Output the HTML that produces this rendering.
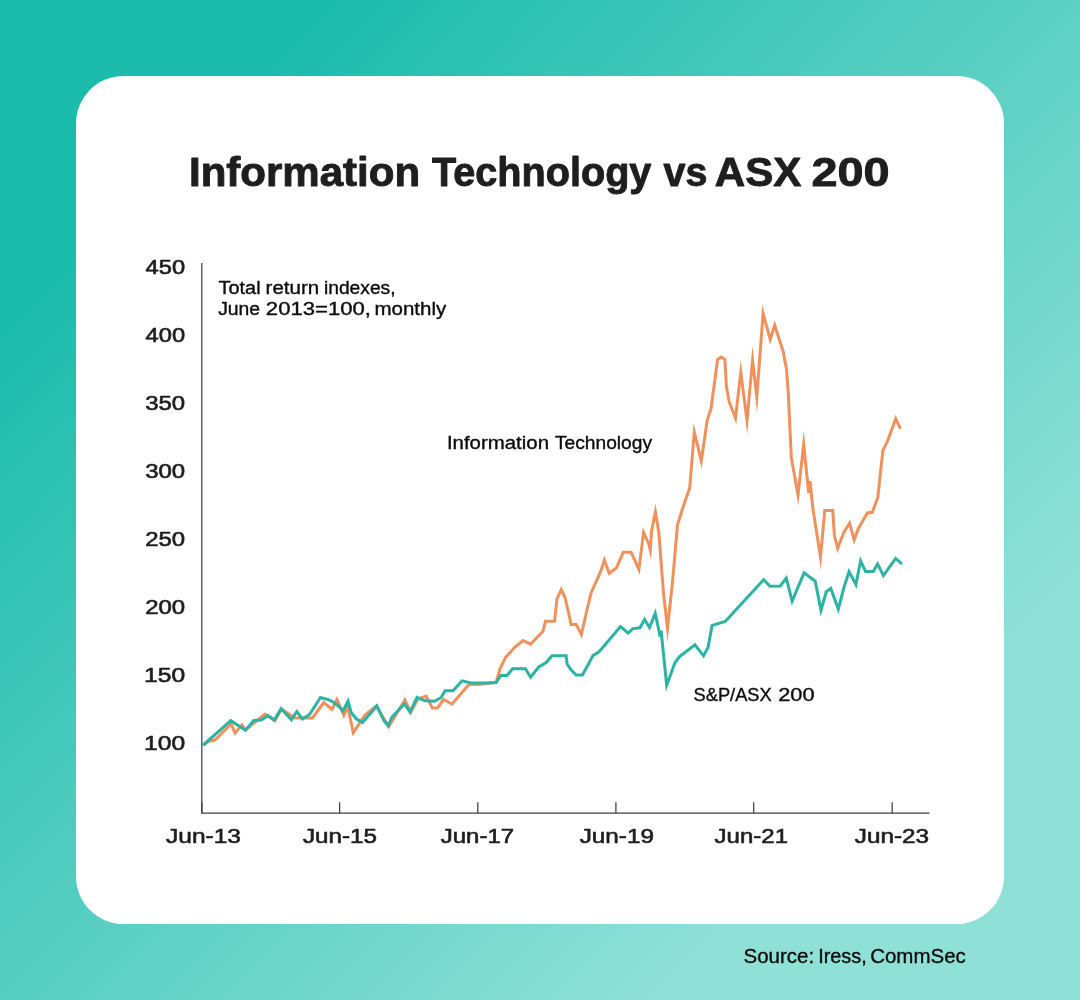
<!DOCTYPE html>
<html lang="en"><head><meta charset="utf-8"><title>Information Technology vs ASX 200</title>
<style>
html,body{margin:0;padding:0;}
body{width:1080px;height:1000px;overflow:hidden;background:linear-gradient(135deg,#1cbcad 16.25%,#8fe0d6 79.3%);font-family:"Liberation Sans",Arial,sans-serif;}
svg{display:block;position:absolute;left:0;top:0;}
text{font-family:"Liberation Sans",Arial,sans-serif;fill:#1e1e1e;white-space:pre;}
.title{font-size:40px;font-weight:bold;stroke:#1e1e1e;stroke-width:0.9px;stroke-linejoin:round;}
.ax{font-size:20px;stroke:#1e1e1e;stroke-width:0.6px;}
.xl{font-size:20.5px;}
.an{font-size:18px;fill:#0c0c0c;stroke:#0c0c0c;stroke-width:0.35px;}
.src{font-size:20px;fill:#0c0c0c;stroke:#0c0c0c;stroke-width:0.35px;}
</style></head><body>
<svg width="1080" height="1000" viewBox="0 0 1080 1000">
<rect x="76" y="76" width="928" height="848" rx="47.5" ry="47.5" fill="#fff"/>
<g stroke="#404040" stroke-width="1.25" fill="none">
<path d="M201.8 263 V813.2 H929.6"/>
<path d="M201.9 802.3 V813.2"/>
<path d="M339.6 802.3 V813.2"/>
<path d="M477.8 802.3 V813.2"/>
<path d="M615.9 802.3 V813.2"/>
<path d="M753.7 802.3 V813.2"/>
<path d="M892.2 802.3 V813.2"/>
</g>
<text class="title" y="186.4"><tspan x="188.97" textLength="231.18" lengthAdjust="spacingAndGlyphs">Information</tspan> <tspan x="431.90" textLength="219.51" lengthAdjust="spacingAndGlyphs">Technology</tspan> <tspan x="663.58" textLength="43.86" lengthAdjust="spacingAndGlyphs">vs</tspan> <tspan x="714.89" textLength="86.52" lengthAdjust="spacingAndGlyphs">ASX</tspan> <tspan x="811.56" textLength="78.09" lengthAdjust="spacingAndGlyphs">200</tspan></text>
<text class="ax" y="273.6"><tspan x="145.64" textLength="39.51" lengthAdjust="spacingAndGlyphs">450</tspan></text>
<text class="ax" y="341.6"><tspan x="145.64" textLength="39.51" lengthAdjust="spacingAndGlyphs">400</tspan></text>
<text class="ax" y="409.6"><tspan x="145.17" textLength="39.96" lengthAdjust="spacingAndGlyphs">350</tspan></text>
<text class="ax" y="477.6"><tspan x="145.17" textLength="39.96" lengthAdjust="spacingAndGlyphs">300</tspan></text>
<text class="ax" y="545.6"><tspan x="145.17" textLength="39.96" lengthAdjust="spacingAndGlyphs">250</tspan></text>
<text class="ax" y="613.6"><tspan x="145.17" textLength="39.96" lengthAdjust="spacingAndGlyphs">200</tspan></text>
<text class="ax" y="681.6"><tspan x="144.08" textLength="41.09" lengthAdjust="spacingAndGlyphs">150</tspan></text>
<text class="ax" y="749.6"><tspan x="144.08" textLength="41.09" lengthAdjust="spacingAndGlyphs">100</tspan></text>
<text class="ax xl" y="842.8"><tspan x="166.00" textLength="75.01" lengthAdjust="spacingAndGlyphs">Jun-13</tspan></text>
<text class="ax xl" y="842.8"><tspan x="303.00" textLength="74.01" lengthAdjust="spacingAndGlyphs">Jun-15</tspan></text>
<text class="ax xl" y="842.8"><tspan x="440.87" textLength="73.14" lengthAdjust="spacingAndGlyphs">Jun-17</tspan></text>
<text class="ax xl" y="842.8"><tspan x="579.67" textLength="74.34" lengthAdjust="spacingAndGlyphs">Jun-19</tspan></text>
<text class="ax xl" y="842.8"><tspan x="714.58" textLength="73.43" lengthAdjust="spacingAndGlyphs">Jun-21</tspan></text>
<text class="ax xl" y="842.8"><tspan x="854.77" textLength="74.24" lengthAdjust="spacingAndGlyphs">Jun-23</tspan></text>
<text class="an" y="293.5"><tspan x="218.56" textLength="42.09" lengthAdjust="spacingAndGlyphs">Total</tspan> <tspan x="265.55" textLength="53.63" lengthAdjust="spacingAndGlyphs">return</tspan> <tspan x="323.97" textLength="71.60" lengthAdjust="spacingAndGlyphs">indexes,</tspan></text>
<text class="an" y="314.7"><tspan x="218.20" textLength="41.94" lengthAdjust="spacingAndGlyphs">June</tspan> <tspan x="265.86" textLength="105.09" lengthAdjust="spacingAndGlyphs">2013=100,</tspan> <tspan x="374.45" textLength="71.76" lengthAdjust="spacingAndGlyphs">monthly</tspan></text>
<text class="an" y="449.2"><tspan x="446.94" textLength="102.08" lengthAdjust="spacingAndGlyphs">Information</tspan> <tspan x="555.00" textLength="97.02" lengthAdjust="spacingAndGlyphs">Technology</tspan></text>
<text class="an" y="701.4"><tspan x="693.57" textLength="78.16" lengthAdjust="spacingAndGlyphs">S&amp;P/ASX</tspan> <tspan x="778.15" textLength="36.39" lengthAdjust="spacingAndGlyphs">200</tspan></text>
<text class="src" y="962.6"><tspan x="743.56" textLength="70.61" lengthAdjust="spacingAndGlyphs">Source:</tspan> <tspan x="818.15" textLength="48.51" lengthAdjust="spacingAndGlyphs">Iress,</tspan> <tspan x="870.18" textLength="95.64" lengthAdjust="spacingAndGlyphs">CommSec</tspan></text>
<polyline points="203.8,744.5 208.8,741.2 215.0,740.0 231.2,723.8 235.0,733.0 242.0,725.0 245.5,730.0 265.0,714.0 274.9,720.8 281.4,709.2 295.0,718.0 312.5,717.9 323.8,702.5 331.9,709.4 336.9,699.5 343.8,715.3 347.7,706.4 353.3,732.7 365.0,715.0 376.2,706.0 388.7,726.5 404.9,700.0 410.8,712.3 418.0,698.8 426.2,696.2 432.5,708.0 437.5,708.0 443.8,699.5 452.0,704.2 468.8,684.5 477.5,684.5 496.1,682.4 500.0,668.8 505.5,657.5 515.0,647.0 523.0,640.5 530.5,644.2 543.0,631.2 545.5,621.2 554.5,621.2 557.0,598.8 561.3,589.6 565.0,597.5 571.2,624.5 576.2,624.5 581.4,634.5 587.5,607.5 591.2,592.5 596.5,580.8 600.9,570.9 604.4,559.9 609.2,573.4 616.3,568.0 623.3,552.3 631.1,552.3 638.9,569.4 643.6,532.4 648.6,543.4 650.3,550.2 651.5,531.3 655.4,511.9 658.8,532.4 663.6,594.0 667.5,628.4 672.4,583.0 677.5,524.7 683.4,506.0 689.7,488.0 694.3,432.1 701.3,460.8 707.3,419.8 711.0,408.8 717.6,359.3 721.2,357.1 724.9,359.3 726.4,386.8 729.3,402.2 735.5,418.0 740.8,372.3 747.0,420.5 752.6,360.2 756.8,397.0 763.1,313.3 770.2,339.4 774.7,325.2 783.2,351.6 786.5,369.2 788.3,393.4 791.3,457.4 798.0,495.0 803.7,444.4 808.5,491.5" fill="none" stroke="#f0915c" stroke-width="3" stroke-linejoin="miter" stroke-miterlimit="40" stroke-linecap="round"/>
<polyline points="808.5,491.5 810.2,482.5" fill="none" stroke="#f0915c" stroke-width="3" stroke-linejoin="miter" stroke-miterlimit="40" stroke-linecap="round"/>
<polyline points="810.2,482.5 812.8,508.0 820.5,557.1 824.8,510.4 832.7,510.4 834.4,535.6 837.7,548.3 844.0,532.0 849.6,523.2 854.1,539.9 858.4,528.4 867.4,513.0 872.3,512.3 877.8,497.4 882.9,450.4 887.2,442.0 895.7,418.7 899.9,427.6" fill="none" stroke="#f0915c" stroke-width="3" stroke-linejoin="miter" stroke-miterlimit="40" stroke-linecap="round"/>
<polyline points="203.8,744.5 230.8,720.7 245.5,730.2 253.8,720.5 261.2,720.0 268.0,715.5 274.2,720.0 281.1,708.7 291.4,719.8 296.8,711.5 302.5,719.0 309.5,714.5 320.5,697.5 327.5,699.5 333.2,702.0 339.5,707.0 343.0,711.0 348.0,701.1 351.2,712.5 356.2,718.8 362.5,722.5 376.9,705.9 383.8,720.5 388.2,725.8 392.0,717.0 404.5,703.8 410.0,712.0 417.0,697.5 425.0,700.8 434.5,701.2 441.2,697.5 445.0,690.8 453.0,690.8 462.0,680.8 471.2,683.0 487.5,683.0 496.2,682.5 500.8,675.5 507.0,675.5 512.5,668.8 525.5,668.8 530.6,677.2 538.8,667.0 546.2,662.5 552.0,655.8 566.2,655.8 567.0,663.8 571.2,670.0 576.2,675.0 582.5,675.0 593.0,655.5 598.8,652.0 620.5,626.5 628.0,633.0 632.5,628.8 640.0,627.8 644.5,619.5 649.5,627.5 655.2,613.4 660.0,635.5" fill="none" stroke="#2bb3a4" stroke-width="3" stroke-linejoin="miter" stroke-miterlimit="40" stroke-linecap="round"/>
<polyline points="660.0,635.5 661.2,632.0" fill="none" stroke="#2bb3a4" stroke-width="3" stroke-linejoin="miter" stroke-miterlimit="40" stroke-linecap="round"/>
<polyline points="661.2,632.0 666.7,685.2 675.0,662.5 680.0,656.2 695.0,644.9 703.5,655.8 708.0,647.5 712.1,625.4 725.2,621.5 763.7,579.6 770.0,586.2 780.4,585.9 786.3,578.1 792.1,601.1 804.1,572.9 815.2,581.2 821.0,610.4 826.2,592.0 830.8,588.4 838.3,609.1 844.0,587.2 849.1,571.6 855.9,584.6 860.6,560.8 865.6,571.6 873.3,571.6 877.6,563.9 883.4,575.5 895.6,558.4 900.9,563.2" fill="none" stroke="#2bb3a4" stroke-width="3" stroke-linejoin="miter" stroke-miterlimit="40" stroke-linecap="round"/>
</svg>
</body></html>
